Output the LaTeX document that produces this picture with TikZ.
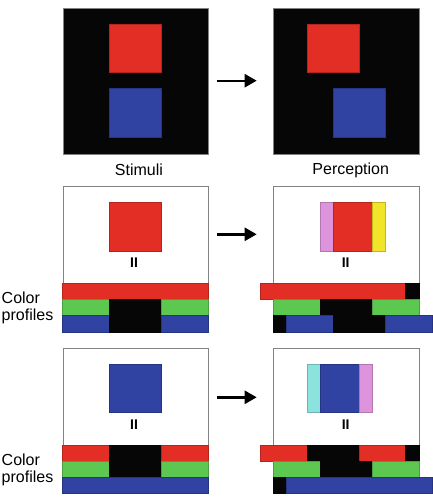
\documentclass[tikz,border=0pt]{standalone}
\usepackage{fontspec}
\setmainfont{Liberation Sans}
\usetikzlibrary{arrows.meta}
\definecolor{cred}{RGB}{226,46,36}
\definecolor{cblue}{RGB}{48,66,162}
\definecolor{cgreen}{RGB}{92,200,80}
\definecolor{cpink}{RGB}{222,148,220}
\definecolor{cyel}{RGB}{242,228,40}
\definecolor{ccyan}{RGB}{140,226,220}
\definecolor{cblk}{RGB}{6,6,6}
\definecolor{cframe}{RGB}{130,130,130}
\tikzset{
  panel/.style={draw=cframe,line width=0.9pt},
  patch/.style={line width=0.5pt},
  lbl/.style={font=\fontsize{16}{17}\selectfont,inner sep=0pt},
  sep/.style={font=\fontsize{14}{16}\selectfont\bfseries,inner sep=0pt},
  go/.style={line width=2.4pt,-{Triangle[length=12pt,width=13pt]}},
}
\newcommand{\pbox}[5]{\fill[#5,draw=#5!80!black,patch] (#1,#2) rectangle (#3,#4);}
\begin{document}
\begin{tikzpicture}[x=1pt,y=-1pt]
\useasboundingbox (0,0) rectangle (433,503);
\fill[white] (0,0) rectangle (433,503);
% ---------- row 1 ----------
\node[panel,fill=cblk,minimum width=145.6pt,minimum height=145.4pt,inner sep=0pt,anchor=north west] (s1) at (62.7,8.3) {};
\node[panel,fill=cblk,minimum width=145.7pt,minimum height=145.4pt,inner sep=0pt,anchor=north west] (p1) at (273.3,8.3) {};
\pbox{109.7}{24}{161.7}{72.7}{cred}
\pbox{109.7}{88.7}{161.7}{137.7}{cblue}
\pbox{307}{24}{359}{72.7}{cred}
\pbox{333}{88.7}{385.3}{137.7}{cblue}
\coordinate (a1s) at (216.7,80.7);
\coordinate (a1e) at (256.7,80.7);
\draw[go] (a1s) -- (a1e);
\node[lbl] (st) at (139,170) {Stimuli};
\node[lbl] (pe) at (350.7,170) {Perception};
% ---------- row 2 ----------
\node[panel,fill=white,minimum width=145.6pt,minimum height=97.6pt,inner sep=0pt,anchor=north west] (s2) at (62.7,185.7) {};
\node[panel,fill=white,minimum width=145.7pt,minimum height=97.6pt,inner sep=0pt,anchor=north west] (p2) at (273.3,185.7) {};
\pbox{109.7}{202.7}{161.7}{251}{cred}
\node[sep] (ii2a) at (134,263) {II};
\pbox{320.3}{202.7}{333}{251}{cpink}
\pbox{333}{202.7}{372}{251}{cred}
\pbox{372}{202.7}{385.3}{251}{cyel}
\node[sep] (ii2b) at (345.7,263) {II};
\coordinate (a2s) at (216.7,234.3);
\coordinate (a2e) at (256.7,234.3);
\draw[go] (a2s) -- (a2e);
% stimulus bars
\pbox{62.7}{283.3}{208.3}{299}{cred}
\pbox{62.7}{299}{109.7}{315.7}{cgreen}
\pbox{109.7}{299}{161.7}{315.7}{cblk}
\pbox{161.7}{299}{208.3}{315.7}{cgreen}
\pbox{62.7}{315.7}{109.7}{332}{cblue}
\pbox{109.7}{315.7}{161.7}{332}{cblk}
\pbox{161.7}{315.7}{208.3}{332}{cblue}
% perception bars
\pbox{260}{283.3}{405.7}{299}{cred}
\pbox{405.7}{283.3}{419}{299}{cblk}
\pbox{273.3}{299}{320.3}{315.7}{cgreen}
\pbox{320.3}{299}{372}{315.7}{cblk}
\pbox{372}{299}{419}{315.7}{cgreen}
\pbox{273.3}{315.7}{286.3}{332}{cblk}
\pbox{286.3}{315.7}{333}{332}{cblue}
\pbox{333}{315.7}{385.3}{332}{cblk}
\pbox{385.3}{315.7}{432.3}{332}{cblue}
\node[lbl,anchor=west,align=left] (cp2) at (1.5,308) {Color\\profiles};
% ---------- row 3 ----------
\node[panel,fill=white,minimum width=145.6pt,minimum height=97.4pt,inner sep=0pt,anchor=north west] (s3) at (62.7,348.3) {};
\node[panel,fill=white,minimum width=145.7pt,minimum height=97.4pt,inner sep=0pt,anchor=north west] (p3) at (273.3,348.3) {};
\pbox{109.7}{364.3}{161.7}{412.7}{cblue}
\node[sep] (ii3a) at (134,425) {II};
\pbox{307}{364.3}{320.3}{412.7}{ccyan}
\pbox{320.3}{364.3}{359}{412.7}{cblue}
\pbox{359}{364.3}{372}{412.7}{cpink}
\node[sep] (ii3b) at (345.7,425) {II};
\coordinate (a3s) at (216.7,397.3);
\coordinate (a3e) at (256.7,397.3);
\draw[go] (a3s) -- (a3e);
% stimulus bars
\pbox{62.7}{445.7}{109.7}{461.3}{cred}
\pbox{109.7}{445.7}{161.7}{461.3}{cblk}
\pbox{161.7}{445.7}{208.3}{461.3}{cred}
\pbox{62.7}{461.3}{109.7}{477.3}{cgreen}
\pbox{109.7}{461.3}{161.7}{477.3}{cblk}
\pbox{161.7}{461.3}{208.3}{477.3}{cgreen}
\pbox{62.7}{477.3}{208.3}{493.7}{cblue}
% perception bars
\pbox{260}{445.7}{307}{461.3}{cred}
\pbox{307}{445.7}{359}{461.3}{cblk}
\pbox{359}{445.7}{405.7}{461.3}{cred}
\pbox{405.7}{445.7}{419}{461.3}{cblk}
\pbox{273.3}{461.3}{320.3}{477.3}{cgreen}
\pbox{320.3}{461.3}{372}{477.3}{cblk}
\pbox{372}{461.3}{419}{477.3}{cgreen}
\pbox{273.3}{477.3}{286.3}{493.7}{cblk}
\pbox{286.3}{477.3}{432.3}{493.7}{cblue}
\node[lbl,anchor=west,align=left] (cp3) at (1.5,470) {Color\\profiles};
\end{tikzpicture}
\end{document}
